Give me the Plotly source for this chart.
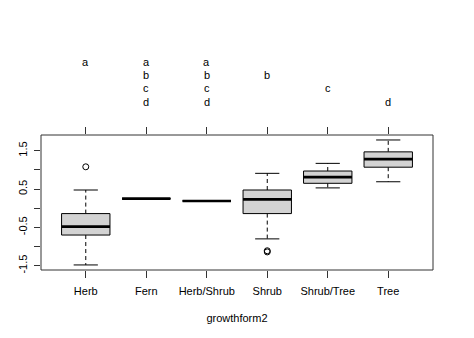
import plotly.graph_objects as go

# Growth-form groups and their five-number summaries
categories = ["Herb", "Fern", "Herb/Shrub", "Shrub", "Shrub/Tree", "Tree"]
whisker_low = [-1.48, 0.25, 0.19, -0.80, 0.53, 0.69]
q1 = [-0.70, 0.25, 0.19, -0.14, 0.65, 1.07]
medians = [-0.48, 0.25, 0.19, 0.23, 0.81, 1.28]
q3 = [-0.14, 0.25, 0.19, 0.475, 0.97, 1.47]
whisker_high = [0.475, 0.25, 0.19, 0.91, 1.17, 1.78]
outlier_group = ["Herb", "Shrub", "Shrub"]
outlier_values = [1.08, -1.11, -1.14]

# Compact letter display from post-hoc comparisons
group_letters = ["a", "abcd", "abcd", "b", "c", "d"]

y_ticks = [1.5, 1.0, 0.5, 0.0, -0.5, -1.0, -1.5]
y_tick_text = ["1.5", "", "0.5", "", "-0.5", "", "-1.5"]

FONT = "Liberation Sans, Arial, Helvetica, sans-serif"
BOX_HALF = 0.4
CAP_HALF = 0.2

fig = go.Figure()

for i, cat in enumerate(categories):
    x = i + 1
    # dashed whiskers
    fig.add_trace(go.Scatter(
        x=[x, x, None, x, x],
        y=[q3[i], whisker_high[i], None, q1[i], whisker_low[i]],
        mode="lines", line=dict(color="black", width=1, dash="4px,3px"),
        hoverinfo="skip", showlegend=False))
    # whisker caps
    fig.add_trace(go.Scatter(
        x=[x - CAP_HALF, x + CAP_HALF, None, x - CAP_HALF, x + CAP_HALF],
        y=[whisker_high[i], whisker_high[i], None, whisker_low[i], whisker_low[i]],
        mode="lines", line=dict(color="black", width=1),
        hoverinfo="skip", showlegend=False))
    # box
    fig.add_trace(go.Scatter(
        x=[x - BOX_HALF, x + BOX_HALF, x + BOX_HALF, x - BOX_HALF, x - BOX_HALF],
        y=[q1[i], q1[i], q3[i], q3[i], q1[i]],
        mode="lines", fill="toself", fillcolor="#d3d3d3",
        line=dict(color="black", width=1),
        hoverinfo="skip", showlegend=False))
    # median
    fig.add_trace(go.Scatter(
        x=[x - BOX_HALF, x + BOX_HALF], y=[medians[i], medians[i]],
        mode="lines", line=dict(color="black", width=2.6),
        hoverinfo="skip", showlegend=False))

# outliers
fig.add_trace(go.Scatter(
    x=[categories.index(g) + 1 for g in outlier_group], y=outlier_values,
    mode="markers",
    marker=dict(symbol="circle-open", size=6, color="black", line=dict(width=1)),
    hoverinfo="skip", showlegend=False))

# invisible trace to activate the top axis
fig.add_trace(go.Scatter(x=[1], y=[0], xaxis="x2", mode="markers",
                         marker=dict(opacity=0), hoverinfo="skip", showlegend=False))

# letters above the top axis, one row per letter
for i, letters in enumerate(group_letters):
    for ch in letters:
        row = ord(ch) - ord("a")
        fig.add_annotation(
            x=i + 1, xref="x", y=1, yref="paper",
            text=ch, showarrow=False, yanchor="middle", xanchor="center",
            yshift=73.5 - 13.4 * row,
            font=dict(family=FONT, size=11, color="black"))

x_range = [0.26, 6.74]
fig.update_layout(
    width=474, height=338,
    margin=dict(l=41, r=41, t=135, b=68),
    paper_bgcolor="white", plot_bgcolor="white",
    font=dict(family=FONT, size=11, color="black"),
    xaxis=dict(
        range=x_range, tickmode="array", tickvals=list(range(1, 7)),
        ticktext=categories, ticks="outside", ticklen=7, tickwidth=1,
        tickcolor="#333", showgrid=False, zeroline=False, showline=False,
        ticklabelstandoff=4,
        title=dict(text="growthform2", standoff=18,
                   font=dict(family=FONT, size=11, color="black")),
        tickfont=dict(family=FONT, size=11, color="black")),
    xaxis2=dict(
        range=x_range, overlaying="x", side="top", anchor="y",
        tickmode="array", tickvals=list(range(1, 7)), showticklabels=False,
        ticks="outside", ticklen=7, tickwidth=1, tickcolor="#333",
        showgrid=False, zeroline=False, showline=False),
    yaxis=dict(
        range=[-1.612, 1.910], tickmode="array", tickvals=y_ticks,
        ticktext=y_tick_text, tickangle=-90, ticks="outside", ticklen=6,
        tickwidth=1, tickcolor="#333", showgrid=False, zeroline=False,
        showline=False, ticklabelstandoff=3,
        tickfont=dict(family=FONT, size=11, color="black")),
    shapes=[dict(type="rect", xref="paper", yref="paper", x0=0, x1=1, y0=0, y1=1,
                 line=dict(color="#333", width=1), fillcolor="rgba(0,0,0,0)")],
)

fig.write_html("out.html")
